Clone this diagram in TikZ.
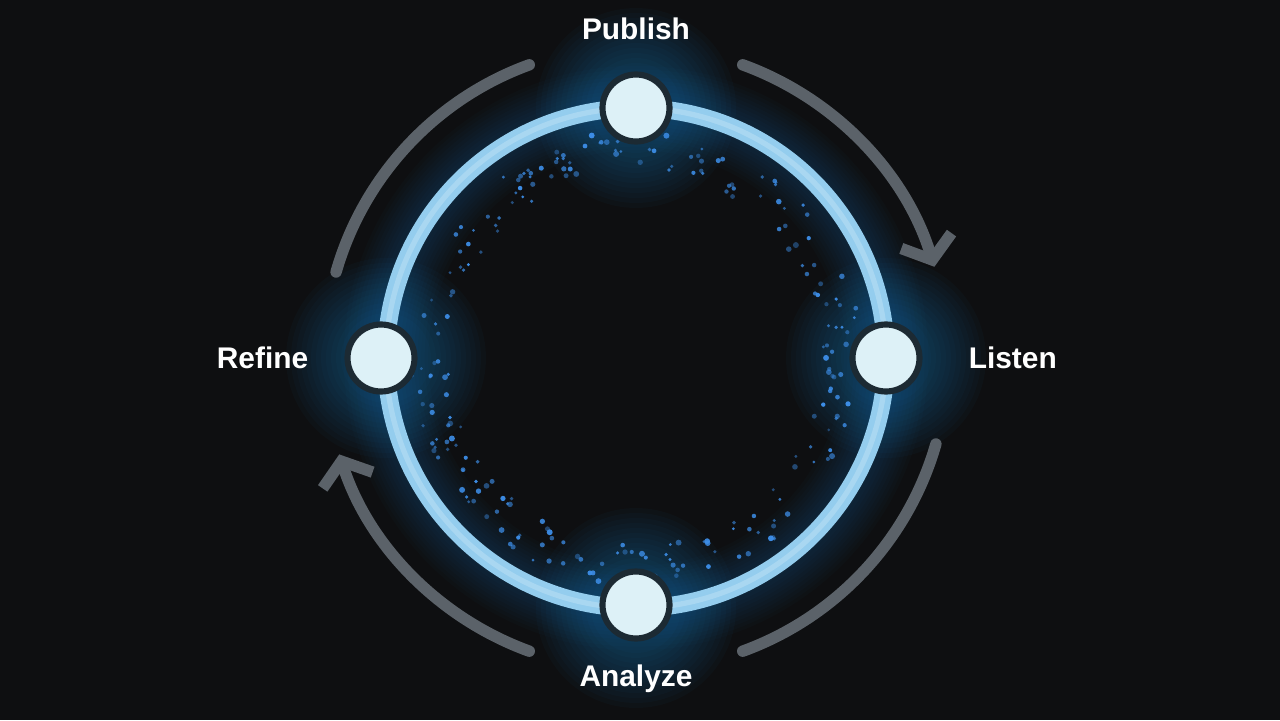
\documentclass[tikz,border=0pt]{standalone}
\usepackage{fontspec}
\setmainfont{Liberation Sans}
\usetikzlibrary{arrows.meta,positioning}
\definecolor{bgdark}{HTML}{0E0F11}
\definecolor{ringblue}{HTML}{94CDEE}
\definecolor{glowblue}{HTML}{2B8FDA}
\definecolor{dotblue}{HTML}{3D8EE8}
\definecolor{nodefill}{HTML}{DDF1F7}
\definecolor{nodeedge}{HTML}{1C2A33}
\definecolor{arcgrey}{HTML}{5B6269}
\tikzset{
  stage/.style={circle,fill=nodefill,draw=nodeedge,line width=3.5pt,minimum size=1.34cm,inner sep=0pt},
  stagelabel/.style={text=white,font=\bfseries\fontsize{17}{20}\selectfont},
  flowarc/.style={draw=arcgrey,line width=6.5pt,line cap=round},
  flowtip/.style={-{Straight Barb[length=0.4cm,width=1.05cm]}},
}
\begin{document}
\begin{tikzpicture}
\fill[bgdark] (-12.72,-7.24) rectangle (12.88,7.16);
\useasboundingbox (-12.72,-7.24) rectangle (12.88,7.16);

% glow
\foreach \w in {48,44,...,12}
  \draw[glowblue,opacity=0.022,line width=\w pt] (0,0) circle (5);
\foreach \a in {90,0,-90,180}
  \foreach \r in {2.0,1.9,...,0.8}
    \fill[glowblue,opacity=0.03] (\a:5) circle (\r);

% particles
\pgfmathsetseed{11}
\foreach \i in {1,...,240}{
  \pgfmathsetmacro\ang{rnd*360}
  \pgfmathsetmacro\rad{3.75+0.8*rnd}
  \pgfmathsetmacro\op{0.4+0.6*rnd}
  \pgfmathsetmacro\sz{0.03+0.03*rnd}
  \fill[dotblue,opacity=\op] (\ang:\rad) circle (\sz);
}

% ring
\draw[ringblue,line width=10pt] (0,0) circle (5);
\draw[white,opacity=0.2,line width=3pt] (0,0) circle (5);

\node[stage] (pub) at (90:5) {};
\node[stage] (lis) at (0:5) {};
\node[stage] (ana) at (-90:4.94) {};
\node[stage] (ref) at (180:5.1) {};

\node[stagelabel,above=0.5cm of pub] (publbl) {Publish};
\node[stagelabel,right=0.8cm of lis] (lislbl) {Listen};
\node[stagelabel,below=0.35cm of ana] (analbl) {Analyze};
\node[stagelabel,left=0.6cm of ref] (reflbl) {Refine};

% outer arrows
\coordinate (arcA) at (70:6.24);
\coordinate (arcB) at (164:6.24);
\coordinate (arcC) at (250:6.24);
\coordinate (arcD) at (-16:6.24);
\draw[flowarc,flowtip] (arcA) arc[start angle=70,end angle=17,radius=6.24];
\draw[flowarc] (arcB) arc[start angle=164,end angle=110,radius=6.24];
\draw[flowarc,flowtip] (arcC) arc[start angle=250,end angle=198,radius=6.24];
\draw[flowarc] (arcD) arc[start angle=-16,end angle=-70,radius=6.24];
\end{tikzpicture}
\end{document}
